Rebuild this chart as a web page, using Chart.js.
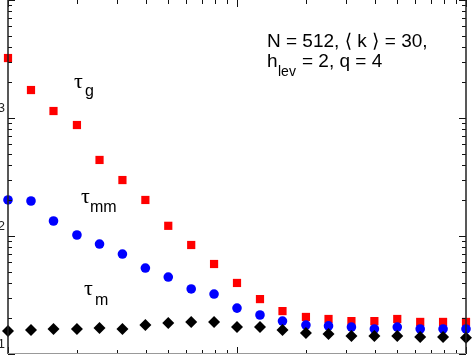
<!DOCTYPE html>
<html>
<head>
<meta charset="utf-8">
<script src="https://cdn.jsdelivr.net/npm/chart.js@4"></script>
<style>
  html, body { margin: 0; padding: 0; background: #fff; overflow: hidden; }
  #wrap { position: absolute; left: -10px; top: 0; width: 484px; height: 355px; }
</style>
</head>
<body>
<div id="wrap"><canvas id="tau-chart"></canvas></div>
<script>
var xValues = [0.1, 0.126, 0.158, 0.2, 0.251, 0.316, 0.398, 0.501, 0.631, 0.794, 1,
               1.26, 1.58, 2, 2.51, 3.16, 3.98, 5.01, 6.31, 7.94, 10]
var tauG  = [3222, 1726, 1146, 872, 441, 298, 202, 122, 83.9, 57.9, 40.0,
             29.2, 23.1, 20.6, 19.8, 19.0, 19.0, 19.8, 18.7, 18.7, 18.7]
var tauMM = [202, 198, 134, 102, 85.5, 70.3, 53.5, 44.9, 35.6, 32.2, 24.5,
             21.4, 19.0, 17.6, 17.3, 16.9, 16.3, 16.9, 16.3, 16.3, 16.3]
var tauM  = [15.7, 16.0, 16.3, 16.3, 16.6, 16.3, 17.6, 18.3, 18.7, 18.7, 16.9,
             16.9, 16.0, 15.1, 14.8, 14.2, 14.2, 14.2, 13.9, 13.9, 13.7]
var yTickLabels = { 10: "1", 100: "2", 1000: "3" }

function toPoints(ys) {
  return xValues.map(function (x, i) { return { x: x, y: ys[i] }; });
}

// inward ticks, axis frame and the text annotations
var framePlugin = {
  id: "frame",
  afterDraw: function (chart) {
    var ctx = chart.ctx, a = chart.chartArea;
    var xs = chart.scales.x, ys = chart.scales.y;
    ctx.save();
    ctx.strokeStyle = "#111";
    ctx.lineWidth = 1;
    // x ticks (top and bottom)
    for (var e = -1; e <= 1; e++) {
      for (var m = 1; m <= 9; m++) {
        var v = m * Math.pow(10, e);
        if (v > 10.0001) break;
        var px = Math.round(xs.getPixelForValue(v)) + 0.5;
        var len = m === 1 ? 7 : 4;
        ctx.beginPath();
        ctx.moveTo(px, a.top); ctx.lineTo(px, a.top + len);
        ctx.moveTo(px, a.bottom); ctx.lineTo(px, a.bottom - len);
        ctx.stroke();
      }
    }
    // y ticks (left and right)
    for (var e2 = 1; e2 <= 4; e2++) {
      for (var m2 = 1; m2 <= 9; m2++) {
        var v2 = m2 * Math.pow(10, e2);
        if (v2 > 10000.001) break;
        var py = Math.round(ys.getPixelForValue(v2)) + 0.5;
        var len2 = m2 === 1 ? 7 : 4;
        ctx.beginPath();
        ctx.moveTo(a.left, py); ctx.lineTo(a.left + len2, py);
        ctx.moveTo(a.right, py); ctx.lineTo(a.right - len2, py);
        ctx.stroke();
      }
    }
    // frame
    ctx.lineWidth = 1.5;
    ctx.strokeStyle = "#222";
    ctx.beginPath();
    ctx.moveTo(a.left, a.top); ctx.lineTo(a.left, a.bottom);
    ctx.moveTo(a.right, a.top); ctx.lineTo(a.right, a.bottom);
    ctx.stroke();
    ctx.strokeStyle = "#999";
    ctx.lineWidth = 1;
    ctx.beginPath();
    ctx.moveTo(a.left, a.bottom - 0.5); ctx.lineTo(a.right, a.bottom - 0.5);
    ctx.stroke();

    // annotations (canvas is shifted 10px left)
    var ox = 10;
    ctx.fillStyle = "#000";
    ctx.textBaseline = "alphabetic";
    ctx.textAlign = "left";
    var sans = "'Liberation Sans', Arial, 'DejaVu Sans', sans-serif";
    var tau = "22px 'Liberation Serif', 'DejaVu Serif', serif";
    ctx.font = "19px " + sans;
    ctx.fillText("N = 512, \u27E8 k \u27E9 = 30,", 267 + ox, 47);
    ctx.fillText("h", 267 + ox, 67);
    ctx.font = "14px " + sans;
    ctx.fillText("lev", 278 + ox, 76);
    ctx.font = "19px " + sans;
    ctx.fillText("= 2, q = 4", 302 + ox, 67);

    ctx.font = tau;
    ctx.fillText("\u03C4", 74 + ox, 88);
    ctx.fillText("\u03C4", 81 + ox, 203);
    ctx.fillText("\u03C4", 84 + ox, 295);
    ctx.font = "16px " + sans;
    ctx.fillText("g", 85 + ox, 96);
    ctx.fillText("mm", 90 + ox, 212);
    ctx.fillText("m", 95 + ox, 305);
    ctx.restore();
  }
};

new Chart("tau-chart", {
  type: "scatter",
  data: {
    datasets: [
      {
        label: "tau_m",
        data: toPoints(tauM),
        pointStyle: "rectRot",
        pointRadius: 6,
        backgroundColor: "#000",
        borderColor: "#000",
        borderWidth: 0,
        clip: false
      },
      {
        label: "tau_mm",
        data: toPoints(tauMM),
        pointStyle: "circle",
        pointRadius: 4.8,
        backgroundColor: "#0000ff",
        borderColor: "#0000ff",
        borderWidth: 0,
        clip: false
      },
      {
        label: "tau_g",
        data: toPoints(tauG),
        pointStyle: "rect",
        pointRadius: 5.8,
        backgroundColor: "#ff0000",
        borderColor: "#ff0000",
        borderWidth: 0,
        clip: false
      }
    ]
  },
  plugins: [framePlugin],
  options: {
    responsive: true,
    maintainAspectRatio: false,
    animation: false,
    layout: { autoPadding: false, padding: { top: 0, right: 8, bottom: 0, left: 0 } },
    plugins: {
      legend: { display: false },
      tooltip: { enabled: false }
    },
    scales: {
      x: {
        type: "logarithmic",
        min: 0.1,
        max: 10,
        grid: { display: false, drawTicks: false },
        border: { display: false },
        ticks: { display: false },
        afterFit: function (s) {
          s.height = 1;
          s.paddingLeft = 0; s.paddingRight = 0;
        }
      },
      y: {
        type: "logarithmic",
        min: 10,
        max: 10000,
        grid: { display: false, drawTicks: false },
        border: { display: false },
        ticks: {
          autoSkip: false,
          padding: 3,
          labelOffset: -10,
          color: "#222",
          font: { family: "'Liberation Sans', Arial, sans-serif", size: 13 },
          callback: function (value) { return yTickLabels[value] || ""; }
        },
        afterFit: function (s) {
          s.width = 18;
          s.paddingTop = 0; s.paddingBottom = 0;
        }
      }
    }
  }
});
</script>
</body>
</html>
